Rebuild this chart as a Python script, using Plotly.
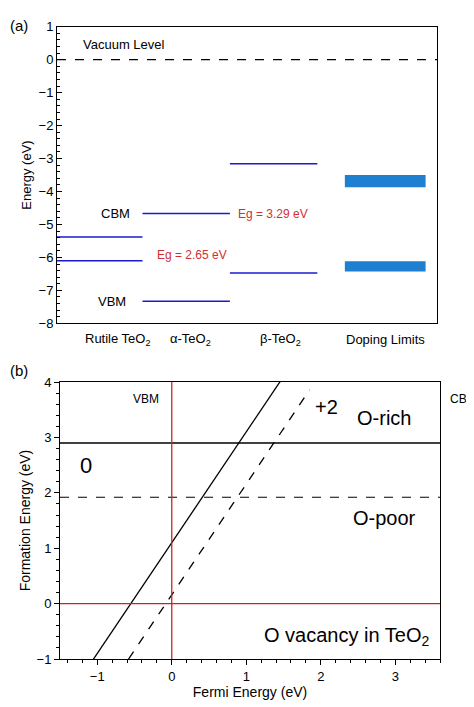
import plotly.graph_objects as go

# Panel (a) data
phases = ["Rutile TeO<sub>2</sub>", "α-TeO<sub>2</sub>", "β-TeO<sub>2</sub>", "Doping Limits"]
phase_x0 = [0.0, 0.9, 1.82, 3.03]
phase_x1 = [0.9, 1.82, 2.74, 3.88]
cbm = [-5.38, -4.67, -3.16]
vbm = [-6.10, -7.33, -6.47]
dop_upper = [-3.50, -3.87]
dop_lower = [-6.12, -6.43]

# Panel (b) data
fermi_solid = [-1.08, 1.55]
form_solid = [-1.06, 4.2]
fermi_dash = [-0.58, 1.85]
form_dash = [-1.0, 3.86]
o_rich = 2.9
o_poor = 1.92

fig = go.Figure()
blue = "#1a1ad0"
for i in range(3):
    for v in (cbm[i], vbm[i]):
        fig.add_trace(go.Scatter(x=[phase_x0[i], phase_x1[i]], y=[v, v], mode="lines",
                                 line=dict(color=blue, width=1.5), xaxis="x", yaxis="y", showlegend=False))
for band in (dop_upper, dop_lower):
    fig.add_trace(go.Scatter(x=[phase_x0[3], phase_x1[3], phase_x1[3], phase_x0[3], phase_x0[3]],
                             y=[band[0], band[0], band[1], band[1], band[0]], fill="toself",
                             fillcolor="#1f7fd0", line=dict(width=0), mode="lines",
                             xaxis="x", yaxis="y", showlegend=False))
fig.add_trace(go.Scatter(x=[0, 4], y=[0, 0], mode="lines", line=dict(color="black", dash="dash", width=1.2),
                         xaxis="x", yaxis="y", showlegend=False))

# panel b
fig.add_trace(go.Scatter(x=fermi_solid, y=form_solid, mode="lines", line=dict(color="black", width=1.3),
                         xaxis="x2", yaxis="y2", showlegend=False))
fig.add_trace(go.Scatter(x=fermi_dash, y=form_dash, mode="lines", line=dict(color="black", width=1.3, dash="dash"),
                         xaxis="x2", yaxis="y2", showlegend=False))
fig.add_trace(go.Scatter(x=[-1.5, 3.6], y=[o_rich, o_rich], mode="lines", line=dict(color="black", width=1.3),
                         xaxis="x2", yaxis="y2", showlegend=False))
fig.add_trace(go.Scatter(x=[-1.5, 3.6], y=[o_poor, o_poor], mode="lines", line=dict(color="black", width=1.2, dash="dash"),
                         xaxis="x2", yaxis="y2", showlegend=False))
fig.add_trace(go.Scatter(x=[-1.5, 3.6], y=[0, 0], mode="lines", line=dict(color="#d02020", width=1.3),
                         xaxis="x2", yaxis="y2", showlegend=False))
fig.add_trace(go.Scatter(x=[0, 0], y=[-1, 4.15], mode="lines", line=dict(color="#d02020", width=1.3),
                         xaxis="x2", yaxis="y2", showlegend=False, cliponaxis=False))

W, H = 474, 707
ax = dict(showline=True, linecolor="black", mirror=True, ticks="outside", tickcolor="black",
          showgrid=False, zeroline=False, tickfont=dict(size=13, color="black"))
fig.update_layout(
    width=W, height=H, margin=dict(l=0, r=0, t=0, b=0), plot_bgcolor="white", paper_bgcolor="white",
    font=dict(family="Arial, Liberation Sans", color="black"),
    xaxis=dict(domain=[49/W, 429/W], range=[0, 4], showline=True, linecolor="black", mirror=True,
               showticklabels=False, ticks="", showgrid=False, zeroline=False),
    yaxis=dict(ax, domain=[1-315/H, 1-12/H], range=[-8, 1], dtick=1, ticks="inside",
               minor=dict(ticks="inside", dtick=0.2, ticklen=3, tickcolor="black"),
               title=dict(text="Energy (eV)", font=dict(size=13), standoff=4)),
    xaxis2=dict(ax, domain=[52/W, 432/W], range=[-1.5, 3.6], dtick=1, anchor="y2",
                minor=dict(ticks="outside", dtick=0.2, ticklen=3, tickcolor="black"),
                title=dict(text="Fermi Energy (eV)", font=dict(size=14), standoff=2)),
    yaxis2=dict(ax, domain=[1-658/H, 1-375/H], range=[-1, 4], dtick=1, anchor="x2",
                minor=dict(ticks="outside", dtick=0.2, ticklen=3, tickcolor="black"),
                title=dict(text="Formation Energy (eV)", font=dict(size=14), standoff=2)),
)

def ann(x, y, text, xref, yref, size=12, color="black", xanchor="center", yanchor="middle"):
    fig.add_annotation(x=x, y=y, text=text, xref=xref, yref=yref, showarrow=False,
                       font=dict(size=size, color=color), xanchor=xanchor, yanchor=yanchor)

ann(0.25, 0.45, "Vacuum Level", "x", "y", 13, xanchor="left")
ann(0.62, -4.67, "CBM", "x", "y", 13)
ann(0.58, -7.33, "VBM", "x", "y", 13)
ann(2.27, -4.67, "Eg = 3.29 eV", "x", "y", 12, "#d03030")
ann(1.42, -5.93, "Eg = 2.65 eV", "x", "y", 12, "#d03030")
for i, p in enumerate(phases):
    xc = [110, 182, 272, 377][i]
    ann(xc / W, 1 - 332 / H, p, "paper", "paper", 13)
ann(0, 1, "(a)", "paper", "paper", 15, xanchor="left", yanchor="top")
ann(0, 1 - 352 / H, "(b)", "paper", "paper", 15, xanchor="left", yanchor="top")
ann(-0.34, 3.7, "VBM", "x2", "y2", 12)
ann(455 / W, 1 - 392 / H, "CBM", "paper", "paper", 12)
ann(2.07, 3.55, "+2", "x2", "y2", 20)
ann(2.85, 3.35, "O-rich", "x2", "y2", 20)
ann(2.85, 1.55, "O-poor", "x2", "y2", 20)
ann(-1.15, 2.5, "0", "x2", "y2", 22)
ann(2.35, -0.6, "O vacancy in TeO<sub>2</sub>", "x2", "y2", 20)
fig.write_html("out.html")
